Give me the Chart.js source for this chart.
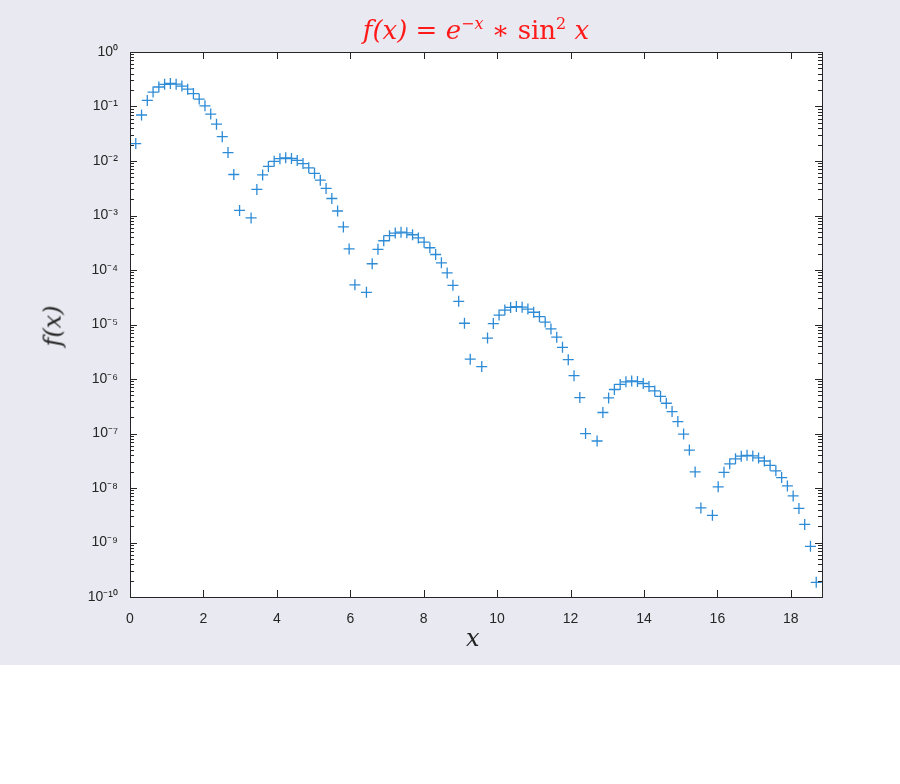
<!DOCTYPE html>
<html>
<head>
<meta charset="utf-8">
<script src="https://cdn.jsdelivr.net/npm/chart.js@4/dist/chart.umd.min.js"></script>
<style>
  body { margin: 0; background: #fff; }
  #wrap { position: relative; width: 900px; height: 665px; background: #e9e9f1; }
  .tex { position: absolute; font-family: "DejaVu Serif", serif; font-style: italic; }
</style>
</head>
<body>
<div id="wrap">
  <canvas id="c" width="900" height="665"></canvas>
  <div class="tex" style="left:0;width:952px;top:14px;text-align:center;color:#ff1a1a;font-size:26px;">f(x) = e<sup style="font-size:16px">&minus;x</sup> &lowast; <span style="font-style:normal">sin</span><sup style="font-size:16px;font-style:normal">2</sup> x</div>
  <div class="tex" style="left:466px;top:624px;font-size:24px;color:#222;">x</div>
  <div class="tex" style="left:32px;top:312px;font-size:24px;color:#222;transform:rotate(-90deg);">f(x)</div>
</div>
<script>
// sample step in x (pi/20), 20 samples per hump, the 20th is ~0 and falls off the log axis
const xStep = Math.PI / 20;

const hump1 = [0.0209, 0.0698, 0.129, 0.184, 0.228, 0.255, 0.264, 0.257, 0.237, 0.208, 0.173, 0.137, 0.103, 0.0726, 0.0474, 0.0280, 0.0143, 0.00565, 0.00124, null];
const hump2 = [9.04e-4, 3.01e-3, 5.56e-3, 7.96e-3, 9.85e-3, 1.102e-2, 1.142e-2, 1.112e-2, 1.025e-2, 8.98e-3, 7.49e-3, 5.93e-3, 4.45e-3, 3.14e-3, 2.05e-3, 1.21e-3, 6.17e-4, 2.44e-4, 5.35e-5, null];
const hump3 = [3.90e-5, 1.302e-4, 2.40e-4, 3.44e-4, 4.26e-4, 4.76e-4, 4.94e-4, 4.81e-4, 4.43e-4, 3.88e-4, 3.24e-4, 2.56e-4, 1.923e-4, 1.355e-4, 8.85e-5, 5.23e-5, 2.66e-5, 1.055e-5, 2.31e-6, null];
const hump4 = [1.687e-6, 5.63e-6, 1.038e-5, 1.487e-5, 1.840e-5, 2.058e-5, 2.133e-5, 2.077e-5, 1.915e-5, 1.677e-5, 1.398e-5, 1.108e-5, 8.31e-6, 5.86e-6, 3.82e-6, 2.26e-6, 1.151e-6, 4.56e-7, 9.98e-8, null];
const hump5 = [7.29e-8, 2.43e-7, 4.49e-7, 6.42e-7, 7.95e-7, 8.89e-7, 9.22e-7, 8.97e-7, 8.27e-7, 7.25e-7, 6.04e-7, 4.79e-7, 3.59e-7, 2.53e-7, 1.652e-7, 9.76e-8, 4.97e-8, 1.970e-8, 4.31e-9, null];
const hump6 = [3.15e-9, 1.050e-8, 1.938e-8, 2.78e-8, 3.43e-8, 3.84e-8, 3.98e-8, 3.88e-8, 3.57e-8, 3.13e-8, 2.61e-8, 2.07e-8, 1.551e-8, 1.093e-8, 7.14e-9, 4.22e-9, 2.15e-9, 8.51e-10, 1.86e-10];

const xTicks = [0, 2, 4, 6, 8, 10, 12, 14, 16, 18];
const yExponents = [0, -1, -2, -3, -4, -5, -6, -7, -8, -9, -10];

const yValues = [].concat(hump1, hump2, hump3, hump4, hump5, hump6);
const points = [];
yValues.forEach(function (v, i) {
    if (v !== null) points.push({ x: (i + 1) * xStep, y: v });
});

const sup = { '0': '⁰', '1': '¹', '2': '²', '3': '³', '4': '⁴', '5': '⁵', '6': '⁶', '7': '⁷', '8': '⁸', '9': '⁹', '-': '⁻' };
function powLabel(e) {
    return '10' + String(e).split('').map(function (c) { return sup[c]; }).join('');
}

// white axes box, frame + inward ticks like matlab
const framePlugin = {
    id: 'frame',
    beforeDatasetsDraw: function (chart) {
        const a = chart.chartArea, ctx = chart.ctx;
        ctx.save();
        ctx.fillStyle = '#ffffff';
        ctx.fillRect(a.left, a.top, a.right - a.left, a.bottom - a.top);
        ctx.restore();
    },
    afterDraw: function (chart) {
        const a = chart.chartArea, ctx = chart.ctx;
        const xs = chart.scales.x, ys = chart.scales.y;
        ctx.save();
        ctx.strokeStyle = '#262626';
        ctx.lineWidth = 1;
        ctx.strokeRect(a.left + 0.5, a.top + 0.5, a.right - a.left, a.bottom - a.top);
        ctx.beginPath();
        xTicks.forEach(function (t) {
            const px = Math.round(xs.getPixelForValue(t)) + 0.5;
            ctx.moveTo(px, a.bottom); ctx.lineTo(px, a.bottom - 7);
            ctx.moveTo(px, a.top); ctx.lineTo(px, a.top + 7);
        });
        yExponents.forEach(function (e) {
            for (let m = 1; m <= 9; m++) {
                const v = m * Math.pow(10, e);
                if (v > 1 || v < 1e-10) continue;
                const py = Math.round(ys.getPixelForValue(v)) + 0.5;
                const len = m === 1 ? 7 : 4;
                ctx.moveTo(a.left, py); ctx.lineTo(a.left + len, py);
                ctx.moveTo(a.right, py); ctx.lineTo(a.right - len, py);
            }
        });
        ctx.stroke();
        ctx.restore();
    }
};

new Chart(document.getElementById('c'), {
    type: 'scatter',
    data: {
        datasets: [{
            data: points,
            pointStyle: 'cross',
            pointRadius: 5.5,
            borderColor: '#2e8bd6',
            borderWidth: 1.3
        }]
    },
    options: {
        responsive: false,
        animation: false,
        layout: { padding: { left: 80, right: 78, top: 52, bottom: 40 } },
        plugins: { legend: { display: false }, tooltip: { enabled: false } },
        scales: {
            x: {
                type: 'linear', min: 0, max: 6 * Math.PI,
                grid: { display: false }, border: { display: false },
                afterBuildTicks: function (s) { s.ticks = xTicks.map(function (v) { return { value: v }; }); },
                afterFit: function (s) { s.height = 28; },
                ticks: { color: '#262626', font: { family: 'Liberation Sans', size: 14 }, padding: 6 }
            },
            y: {
                type: 'logarithmic', min: 1e-10, max: 1,
                grid: { display: false }, border: { display: false },
                afterBuildTicks: function (s) { s.ticks = yExponents.map(function (e) { return { value: Math.pow(10, e) }; }); },
                afterFit: function (s) { s.width = 50; },
                ticks: {
                    color: '#262626', font: { family: 'Liberation Sans', size: 14 }, padding: 4,
                    callback: function (v) { return powLabel(Math.round(Math.log10(v))); }
                }
            }
        }
    },
    plugins: [framePlugin]
});
</script>
</body>
</html>
